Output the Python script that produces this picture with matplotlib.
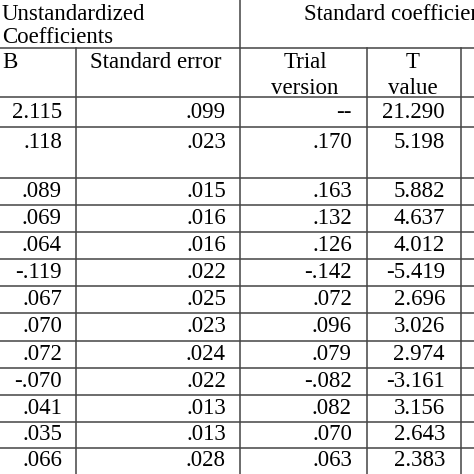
import matplotlib
matplotlib.use('Agg')
import matplotlib.pyplot as plt

# table values
b_vals = ['2.115', '.118', '.089', '.069', '.064', '-.119', '.067', '.070', '.072', '-.070', '.041', '.035', '.066']
se_vals = ['.099', '.023', '.015', '.016', '.016', '.022', '.025', '.023', '.024', '.022', '.013', '.013', '.028']
beta_vals = ['--', '.170', '.163', '.132', '.126', '-.142', '.072', '.096', '.079', '-.082', '.082', '.070', '.063']
t_vals = ['21.290', '5.198', '5.882', '4.637', '4.012', '-5.419', '2.696', '3.026', '2.974', '-3.161', '3.156', '2.643', '2.383']

# row boundaries (pixels)
row_lines = [97, 127, 178, 205, 232, 259, 286, 313, 341, 368, 395, 422, 448, 474]

plt.rcParams['font.family'] = ['Liberation Serif', 'DejaVu Serif']
fig = plt.figure(figsize=(4.74, 4.74), dpi=100)
ax = fig.add_axes([0, 0, 1, 1])
ax.set_xlim(0, 474)
ax.set_ylim(474, 0)
ax.axis('off')

lc = '#444444'
lw = 1.1
fs = 16.5

# grid lines
ax.plot([0, 474], [48, 48], color=lc, lw=lw)
ax.plot([240, 240], [0, 474], color=lc, lw=lw)
for x in [76, 367, 461]:
    ax.plot([x, x], [48, 474], color=lc, lw=lw)
for y in row_lines[:-1]:
    ax.plot([0, 474], [y, y], color=lc, lw=lw)

# headers
ax.text(2, 14, 'Unstandardized', fontsize=fs, va='center', ha='left')
ax.text(2, 37, 'Coefficients', fontsize=fs, va='center', ha='left')
ax.text(304, 14, 'Standard coefficients', fontsize=fs, va='center', ha='left', clip_on=True)
ax.text(2, 62, 'B', fontsize=fs, va='center', ha='left')
ax.text(90, 62, 'Standard error', fontsize=fs, va='center', ha='left')
ax.text(305, 62, 'Trial', fontsize=fs, va='center', ha='center')
ax.text(305, 88, 'version', fontsize=fs, va='center', ha='center')
ax.text(413, 62, 'T', fontsize=fs, va='center', ha='center')
ax.text(413, 88, 'value', fontsize=fs, va='center', ha='center')

for i in range(len(b_vals)):
    top, bot = row_lines[i], row_lines[i + 1]
    y = (top + bot) / 2 if bot - top < 40 else top + 15
    ax.text(62, y, b_vals[i], fontsize=fs, va='center', ha='right')
    ax.text(226, y, se_vals[i], fontsize=fs, va='center', ha='right')
    ax.text(352, y, beta_vals[i], fontsize=fs, va='center', ha='right')
    ax.text(445, y, t_vals[i], fontsize=fs, va='center', ha='right')

fig.savefig('out.png', dpi=100)
